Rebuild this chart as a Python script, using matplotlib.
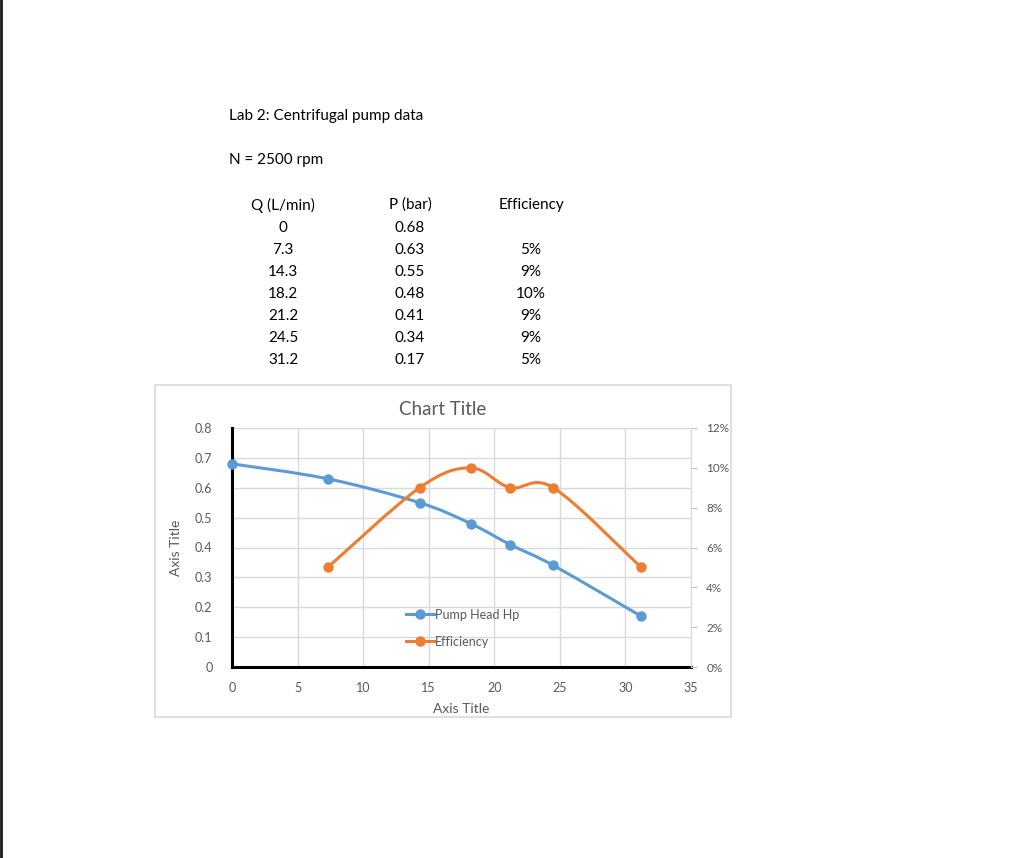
import numpy as np
import matplotlib.pyplot as plt
from matplotlib.path import Path
from matplotlib.patches import PathPatch, Rectangle
from matplotlib.lines import Line2D
from matplotlib.ticker import PercentFormatter

plt.rcParams['font.family'] = ['Lato', 'DejaVu Sans']

# Table data
q = [0, 7.3, 14.3, 18.2, 21.2, 24.5, 31.2]
p = [0.68, 0.63, 0.55, 0.48, 0.41, 0.34, 0.17]
eff = [None, 0.05, 0.09, 0.10, 0.09, 0.09, 0.05]
eff_labels = ["", "5%", "9%", "10%", "9%", "9%", "5%"]

blue = "#5B9BD5"
orange = "#ED7D31"
grey = "#595959"


def smooth_path(x, y):
    # Excel-style smoothed line: cubic Bezier segments through the points
    pts = np.column_stack([x, y])
    n = len(pts)
    verts = [pts[0]]
    codes = [Path.MOVETO]
    for i in range(n - 1):
        p0 = pts[i - 1] if i > 0 else pts[i]
        p1 = pts[i]
        p2 = pts[i + 1]
        p3 = pts[i + 2] if i + 2 < n else pts[i + 1]
        c1 = p1 + (p2 - p0) / 6.0
        c2 = p2 - (p3 - p1) / 6.0
        verts += [c1, c2, p2]
        codes += [Path.CURVE4] * 3
    return Path(verts, codes)


fig = plt.figure(figsize=(10.24, 8.58), dpi=100)
fig.patch.set_facecolor("white")

# page edge line on the left
fig.add_artist(Line2D([0.001, 0.001], [0, 1], color="#1a1a1a", lw=2,
                      transform=fig.transFigure))

# header text and table
W, H = 1024, 858


def ftxt(x, y, s, ha="left", size=11, color="black"):
    fig.text(x / W, 1 - y / H, s, ha=ha, va="center", fontsize=size, color=color)


ftxt(229, 116, "Lab 2: Centrifugal pump data")
ftxt(229, 160, "N = 2500 rpm")
ftxt(283, 205, "Q (L/min)", ha="center")
ftxt(410, 205, "P (bar)", ha="center")
ftxt(531, 205, "Efficiency", ha="center")
row_y = 228
for i in range(len(q)):
    ftxt(283, row_y, f"{q[i]:g}", ha="center")
    ftxt(410, row_y, f"{p[i]:.2f}", ha="center")
    ftxt(531, row_y, eff_labels[i], ha="center")
    row_y += 22

# chart frame
fig.add_artist(Rectangle((155 / W, 1 - 717 / H), (731 - 155) / W, (717 - 385) / H,
                         transform=fig.transFigure, fill=False,
                         edgecolor="#D9D9D9", lw=1.2))
ftxt(443, 410, "Chart Title", ha="center", size=13.5, color=grey)

ax = fig.add_axes([232 / W, 1 - 667 / H, (691 - 232) / W, (667 - 428) / H])
ax2 = ax.twinx()

ax.set_xlim(0, 35)
ax.set_ylim(0, 0.8)
ax.set_xticks(np.arange(0, 36, 5))
ax.set_yticks(np.arange(0, 0.81, 0.1))
ax.set_yticklabels(["0"] + [f"{v:.1f}" for v in np.arange(0.1, 0.81, 0.1)])
ax.grid(True, color="#D9D9D9", lw=1)
ax.set_axisbelow(True)
for s in ["top", "right"]:
    ax.spines[s].set_visible(False)
ax.spines["left"].set_color("black")
ax.spines["left"].set_linewidth(2.2)
ax.spines["bottom"].set_color("black")
ax.spines["bottom"].set_linewidth(2.2)
ax.tick_params(axis="both", length=0, labelsize=9, labelcolor=grey)
ax.tick_params(axis="x", pad=11)
ax.tick_params(axis="y", pad=14)

ax2.set_ylim(0, 0.12)
ax2.set_yticks(np.arange(0, 0.121, 0.02))
ax2.yaxis.set_major_formatter(PercentFormatter(1.0, decimals=0))
for s in ["top", "left", "bottom"]:
    ax2.spines[s].set_visible(False)
ax2.spines["right"].set_color("#D9D9D9")
ax2.tick_params(axis="y", length=4, color="#BFBFBF", labelsize=8.5, labelcolor=grey, pad=7)

# pump head
ax.add_patch(PathPatch(smooth_path(q, p), fill=False, edgecolor=blue, lw=2.2,
                       capstyle="round", zorder=3))
ax.plot(q, p, "o", color=blue, ms=6.5, zorder=4, clip_on=False)

# efficiency (skip empty first entry)
qe = [q[i] for i in range(len(q)) if eff[i] is not None]
ee = [eff[i] for i in range(len(eff)) if eff[i] is not None]
ax2.add_patch(PathPatch(smooth_path(qe, ee), fill=False, edgecolor=orange, lw=2.2,
                        capstyle="round", zorder=3))
ax2.plot(qe, ee, "o", color=orange, ms=6.5, zorder=4, clip_on=False)

ax.set_xlabel("Axis Title", fontsize=10, color=grey, labelpad=6)
ax.set_ylabel("Axis Title", fontsize=10, color=grey, labelpad=9)

handles = [Line2D([], [], color=blue, lw=2.2, marker="o", ms=6.5),
           Line2D([], [], color=orange, lw=2.2, marker="o", ms=6.5)]
leg = ax.legend(handles, ["Pump Head Hp", "Efficiency"], loc="center left",
                bbox_to_anchor=(0.355, 0.163), frameon=False, fontsize=9,
                handlelength=2.2, handletextpad=0.1, labelspacing=1.2,
                labelcolor=grey)

fig.savefig("out.png", dpi=100, facecolor="white")
